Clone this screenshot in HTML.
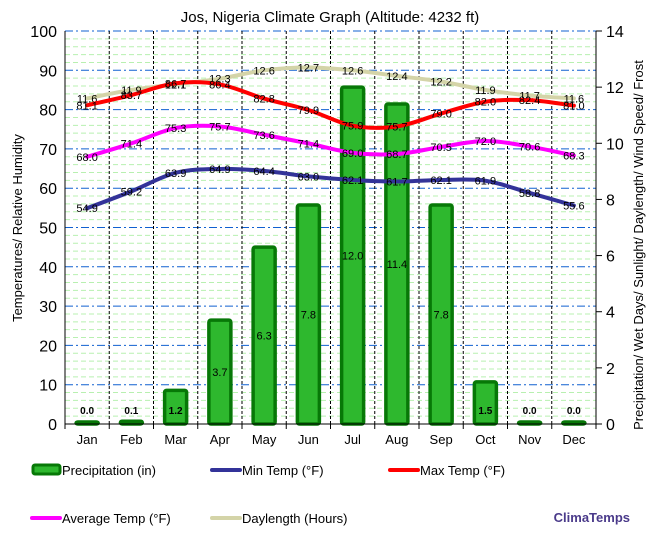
<!DOCTYPE html>
<html><head><meta charset="utf-8"><style>
body{margin:0;background:#fff;font-family:"Liberation Sans",sans-serif}
svg{display:block}
</style></head><body>
<svg id="c" width="661" height="543" xmlns="http://www.w3.org/2000/svg"></svg>
<script>
const months=["Jan","Feb","Mar","Apr","May","Jun","Jul","Aug","Sep","Oct","Nov","Dec"];
const precip=[0.0,0.1,1.2,3.7,6.3,7.8,12.0,11.4,7.8,1.5,0.0,0.0];
const minTemp=[54.9,59.2,63.9,64.9,64.4,63.0,62.1,61.7,62.1,61.9,58.8,55.6];
const maxTemp=[81.1,83.7,86.7,86.4,82.8,79.9,75.9,75.7,79.0,82.0,82.4,81.0];
const avgTemp=[68.0,71.4,75.3,75.7,73.6,71.4,69.0,68.7,70.5,72.0,70.6,68.3];
const daylength=[11.6,11.9,12.1,12.3,12.6,12.7,12.6,12.4,12.2,11.9,11.7,11.6];
const leftTicks=[0,10,20,30,40,50,60,70,80,90,100];
const rightTicks=[0,2,4,6,8,10,12,14];
const NS="http://www.w3.org/2000/svg",svg=document.getElementById('c');
const L=65,R=596,T=31,B=424,bw=(R-L)/12;
const x=i=>L+bw*(i+0.5), yl=v=>B-(v/100)*(B-T), yr=v=>B-(v/14)*(B-T);
function mk(t,a,p){const e=document.createElementNS(NS,t);for(const k in a)e.setAttribute(k,a[k]);(p||svg).appendChild(e);return e;}
function txt(s,a){const e=mk('text',a);e.textContent=s;return e;}
for(let v=2;v<100;v+=2){if(v%10==0)continue;const g=mk('line',{x1:L,x2:R,y1:yl(v),y2:yl(v),stroke:'#b8f0b0','stroke-width':1,'stroke-dasharray':'5,3'});}
for(let v=10;v<=100;v+=10){const g=mk('line',{x1:L,x2:R,y1:yl(v),y2:yl(v),stroke:'#1060d0','stroke-width':1,'stroke-dasharray':'8,3,2,3'});}
for(let i=1;i<12;i++){const g=mk('line',{x1:L+bw*i,x2:L+bw*i,y1:T,y2:B,stroke:'#000','stroke-width':1,'stroke-dasharray':'3,2'});}
precip.forEach((v,i)=>{const h=Math.max(B-yr(v),2);const r=mk('rect',{x:x(i)-11,y:B-h,width:22,height:h,fill:'#2eb82e',stroke:'#077807','stroke-width':3.5,rx:2});
 const ly=v<2?B-10:yr(v)+(B-yr(v))/2+4;const t=txt(v.toFixed(1),{x:x(i),y:ly,'font-size':v<2?10:11,'font-weight':v<2?'bold':'normal','text-anchor':'middle',fill:'#000'});});
function smooth(pts){let d='M'+pts[0][0]+','+pts[0][1];for(let i=0;i<pts.length-1;i++){const p0=pts[i-1]||pts[i],p1=pts[i],p2=pts[i+1],p3=pts[i+2]||p2;const c1=[p1[0]+(p2[0]-p0[0])/6,p1[1]+(p2[1]-p0[1])/6],c2=[p2[0]-(p3[0]-p1[0])/6,p2[1]-(p3[1]-p1[1])/6];d+=` C${c1[0]},${c1[1]} ${c2[0]},${c2[1]} ${p2[0]},${p2[1]}`;}return d;}
function series(arr,sc,col,name){const p=mk('path',{d:smooth(arr.map((v,i)=>[x(i),sc(v)])),fill:'none',stroke:col,'stroke-width':4,'stroke-linecap':'round'});
 arr.forEach((v,i)=>{const t=txt(v.toFixed(1),{x:x(i),y:sc(v)+4,'font-size':11,'text-anchor':'middle',fill:'#000'});});}
series(daylength,yr,'#d4d4a8','daylength');
series(maxTemp,yl,'#ff0000','max-temp');
series(avgTemp,yl,'#ff00ff','avg-temp');
series(minTemp,yl,'#333399','min-temp');
let a=mk('line',{x1:L,x2:L,y1:T,y2:B,stroke:'#000'});
a=mk('line',{x1:R,x2:R,y1:T,y2:B,stroke:'#000'});
a=mk('line',{x1:L,x2:R,y1:B,y2:B,stroke:'#000'});
leftTicks.forEach(v=>{const t=txt(v,{x:L-8,y:yl(v)+6,'font-size':16,'text-anchor':'end'});});
rightTicks.forEach(v=>{mk('line',{x1:R,x2:R+6,y1:yr(v),y2:yr(v),stroke:'#000'});const t=txt(v,{x:R+10,y:yr(v)+6,'font-size':16});});
months.forEach((m,i)=>{mk('line',{x1:L+bw*i,x2:L+bw*i,y1:B,y2:B+5,stroke:'#000'});const t=txt(m,{x:x(i),y:B+20,'font-size':13,'text-anchor':'middle'});});
mk('line',{x1:R,x2:R,y1:B,y2:B+5,stroke:'#000'});
let t=txt('Jos, Nigeria Climate Graph (Altitude: 4232 ft)',{x:330,y:22,'font-size':15,'text-anchor':'middle'});
t=txt('Temperatures/ Relative Humidity',{x:0,y:0,'font-size':13,'text-anchor':'middle',transform:'translate(22,228) rotate(-90)'});
t=txt('Precipitation/ Wet Days/ Sunlight/ Daylength/ Wind Speed/ Frost',{x:0,y:0,'font-size':13,'text-anchor':'middle',transform:'translate(643,245) rotate(-90)'});
const leg=[['Precipitation (in)','#2eb82e',32,470,true],['Min Temp (°F)','#333399',212,470],['Max Temp (°F)','#ff0000',390,470],['Average Temp (°F)','#ff00ff',32,518],['Daylength (Hours)','#d4d4a8',212,518]];
leg.forEach(l=>{const g=mk('g',{});
 if(l[4])mk('rect',{x:l[2]+1,y:l[3]-5,width:27,height:9,fill:l[1],stroke:'#077807','stroke-width':3,rx:2},g);else mk('line',{x1:l[2],x2:l[2]+28,y1:l[3],y2:l[3],stroke:l[1],'stroke-width':4,'stroke-linecap':'round'},g);
 const tt=mk('text',{x:l[2]+30,y:l[3]+5,'font-size':13},g);tt.textContent=l[0];});
t=txt('ClimaTemps',{x:630,y:522,'font-size':13,'font-weight':'bold','text-anchor':'end',fill:'#4a3a8a'});
</script>
</body></html>
